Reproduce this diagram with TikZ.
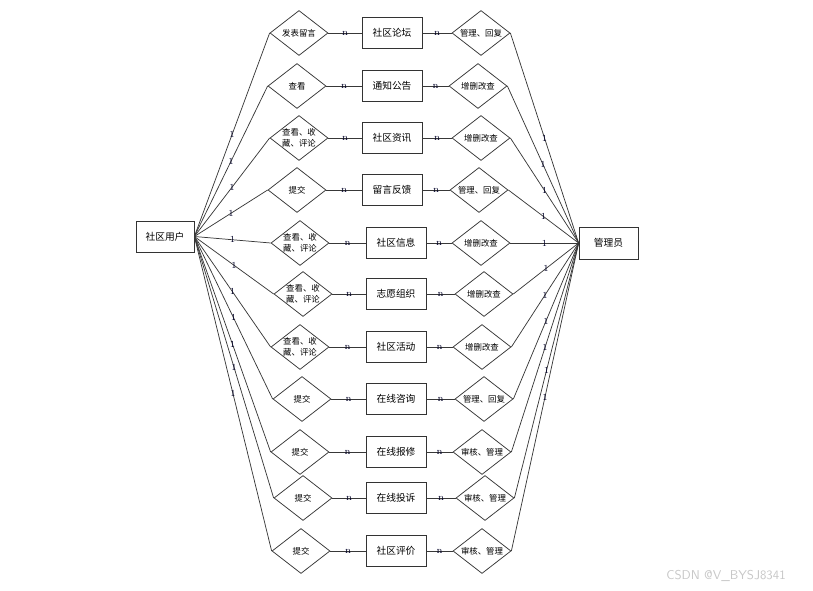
\documentclass[tikz,border=0pt]{standalone}
\usepackage{fontspec}
\newfontfamily\cjk{Noto Sans CJK SC}
\usetikzlibrary{shapes.geometric}

\tikzset{
	entity/.style={draw=black!80, rectangle, minimum width=45pt, minimum height=23.25pt, inner sep=1pt, font=\cjk\fontsize{7.3}{9}\selectfont},
	rel/.style={draw=black!80, diamond, aspect=1.29, inner sep=-0.5pt, minimum width=43.5pt, minimum height=33.75pt, align=center, font=\cjk\fontsize{6.3}{8.6}\selectfont},
	card/.style={font=\fontsize{7}{7}\selectfont, inner sep=0.4pt, text=black!85!blue},
	link/.style={draw=black!78},
}

\begin{document}
\begin{tikzpicture}[x=0.75pt, y=-0.75pt, line width=0.55pt]
	\useasboundingbox (0,0) rectangle (813,591);
	% users and admin
	\node[entity, minimum width=43.5pt] (user)  at (165,236.5) {社区用户};
	\node[entity, minimum width=44.25pt, minimum height=24pt] (admin) at (608.5,243) {管理员};
	% left relations
	\node[rel] (l1)  at (299,33)  {发表留言};
	\node[rel] (l2)  at (297,86)  {查看};
	\node[rel] (l3)  at (299,138) {查看、收\\藏、评论};
	\node[rel] (l4)  at (297,190) {提交};
	\node[rel] (l5)  at (300,243) {查看、收\\藏、评论};
	\node[rel] (l6)  at (303,294) {查看、收\\藏、评论};
	\node[rel] (l7)  at (300,347) {查看、收\\藏、评论};
	\node[rel] (l8)  at (302,399) {提交};
	\node[rel] (l9)  at (300,452) {提交};
	\node[rel] (l10) at (303,498) {提交};
	\node[rel] (l11) at (301,551) {提交};
	% entities
	\node[entity] (e1)  at (392,33)  {社区论坛};
	\node[entity] (e2)  at (392,86)  {通知公告};
	\node[entity] (e3)  at (392,138) {社区资讯};
	\node[entity] (e4)  at (392,190) {留言反馈};
	\node[entity] (e5)  at (396,243) {社区信息};
	\node[entity] (e6)  at (396,294) {志愿组织};
	\node[entity] (e7)  at (396,347) {社区活动};
	\node[entity] (e8)  at (396,399) {在线咨询};
	\node[entity] (e9)  at (396,452) {在线报修};
	\node[entity] (e10) at (396,498) {在线投诉};
	\node[entity] (e11) at (396,551) {社区评价};
	% right relations
	\node[rel] (r1)  at (481,33)  {管理、回复};
	\node[rel] (r2)  at (478,86)  {增删改查};
	\node[rel] (r3)  at (481,138) {增删改查};
	\node[rel] (r4)  at (479,190) {管理、回复};
	\node[rel] (r5)  at (481,243) {增删改查};
	\node[rel] (r6)  at (484,294) {增删改查};
	\node[rel] (r7)  at (482,347) {增删改查};
	\node[rel] (r8)  at (484,399) {管理、回复};
	\node[rel] (r9)  at (482,452) {审核、管理};
	\node[rel] (r10) at (485,498) {审核、管理};
	\node[rel] (r11) at (482,551) {审核、管理};
	% watermark
	\node[text=black!22, font=\fontsize{9.6}{10}\selectfont\sffamily] (wm) at (726,576) {CSDN @V\_BYSJ8341};
	% user side
	\draw[link] (user.east) -- node[card]{1} (l1.west);
	\draw[link] (user.east) -- node[card]{1} (l2.west);
	\draw[link] (user.east) -- node[card]{1} (l3.west);
	\draw[link] (user.east) -- node[card]{1} (l4.west);
	\draw[link] (user.east) -- node[card]{1} (l5.west);
	\draw[link] (user.east) -- node[card]{1} (l6.west);
	\draw[link] (user.east) -- node[card]{1} (l7.west);
	\draw[link] (user.east) -- node[card]{1} (l8.west);
	\draw[link] (user.east) -- node[card]{1} (l9.west);
	\draw[link] (user.east) -- node[card]{1} (l10.west);
	\draw[link] (user.east) -- node[card]{1} (l11.west);
	% relation to entity
	\draw[link] (l1.east) -- node[card]{n} (e1.west);
	\draw[link] (l2.east) -- node[card]{n} (e2.west);
	\draw[link] (l3.east) -- node[card]{n} (e3.west);
	\draw[link] (l4.east) -- node[card]{n} (e4.west);
	\draw[link] (l5.east) -- node[card]{n} (e5.west);
	\draw[link] (l6.east) -- node[card]{n} (e6.west);
	\draw[link] (l7.east) -- node[card]{n} (e7.west);
	\draw[link] (l8.east) -- node[card]{n} (e8.west);
	\draw[link] (l9.east) -- node[card]{n} (e9.west);
	\draw[link] (l10.east) -- node[card]{n} (e10.west);
	\draw[link] (l11.east) -- node[card]{n} (e11.west);
	\draw[link] (e1.east) -- node[card]{n} (r1.west);
	\draw[link] (e2.east) -- node[card]{n} (r2.west);
	\draw[link] (e3.east) -- node[card]{n} (r3.west);
	\draw[link] (e4.east) -- node[card]{n} (r4.west);
	\draw[link] (e5.east) -- node[card]{n} (r5.west);
	\draw[link] (e6.east) -- node[card]{n} (r6.west);
	\draw[link] (e7.east) -- node[card]{n} (r7.west);
	\draw[link] (e8.east) -- node[card]{n} (r8.west);
	\draw[link] (e9.east) -- node[card]{n} (r9.west);
	\draw[link] (e10.east) -- node[card]{n} (r10.west);
	\draw[link] (e11.east) -- node[card]{n} (r11.west);
	% admin side
	\draw[link] (r1.east) -- node[card]{1} (admin.west);
	\draw[link] (r2.east) -- node[card]{1} (admin.west);
	\draw[link] (r3.east) -- node[card]{1} (admin.west);
	\draw[link] (r4.east) -- node[card]{1} (admin.west);
	\draw[link] (r5.east) -- node[card]{1} (admin.west);
	\draw[link] (r6.east) -- node[card]{1} (admin.west);
	\draw[link] (r7.east) -- node[card]{1} (admin.west);
	\draw[link] (r8.east) -- node[card]{1} (admin.west);
	\draw[link] (r9.east) -- node[card]{1} (admin.west);
	\draw[link] (r10.east) -- node[card]{1} (admin.west);
	\draw[link] (r11.east) -- node[card]{1} (admin.west);
\end{tikzpicture}
\end{document}
